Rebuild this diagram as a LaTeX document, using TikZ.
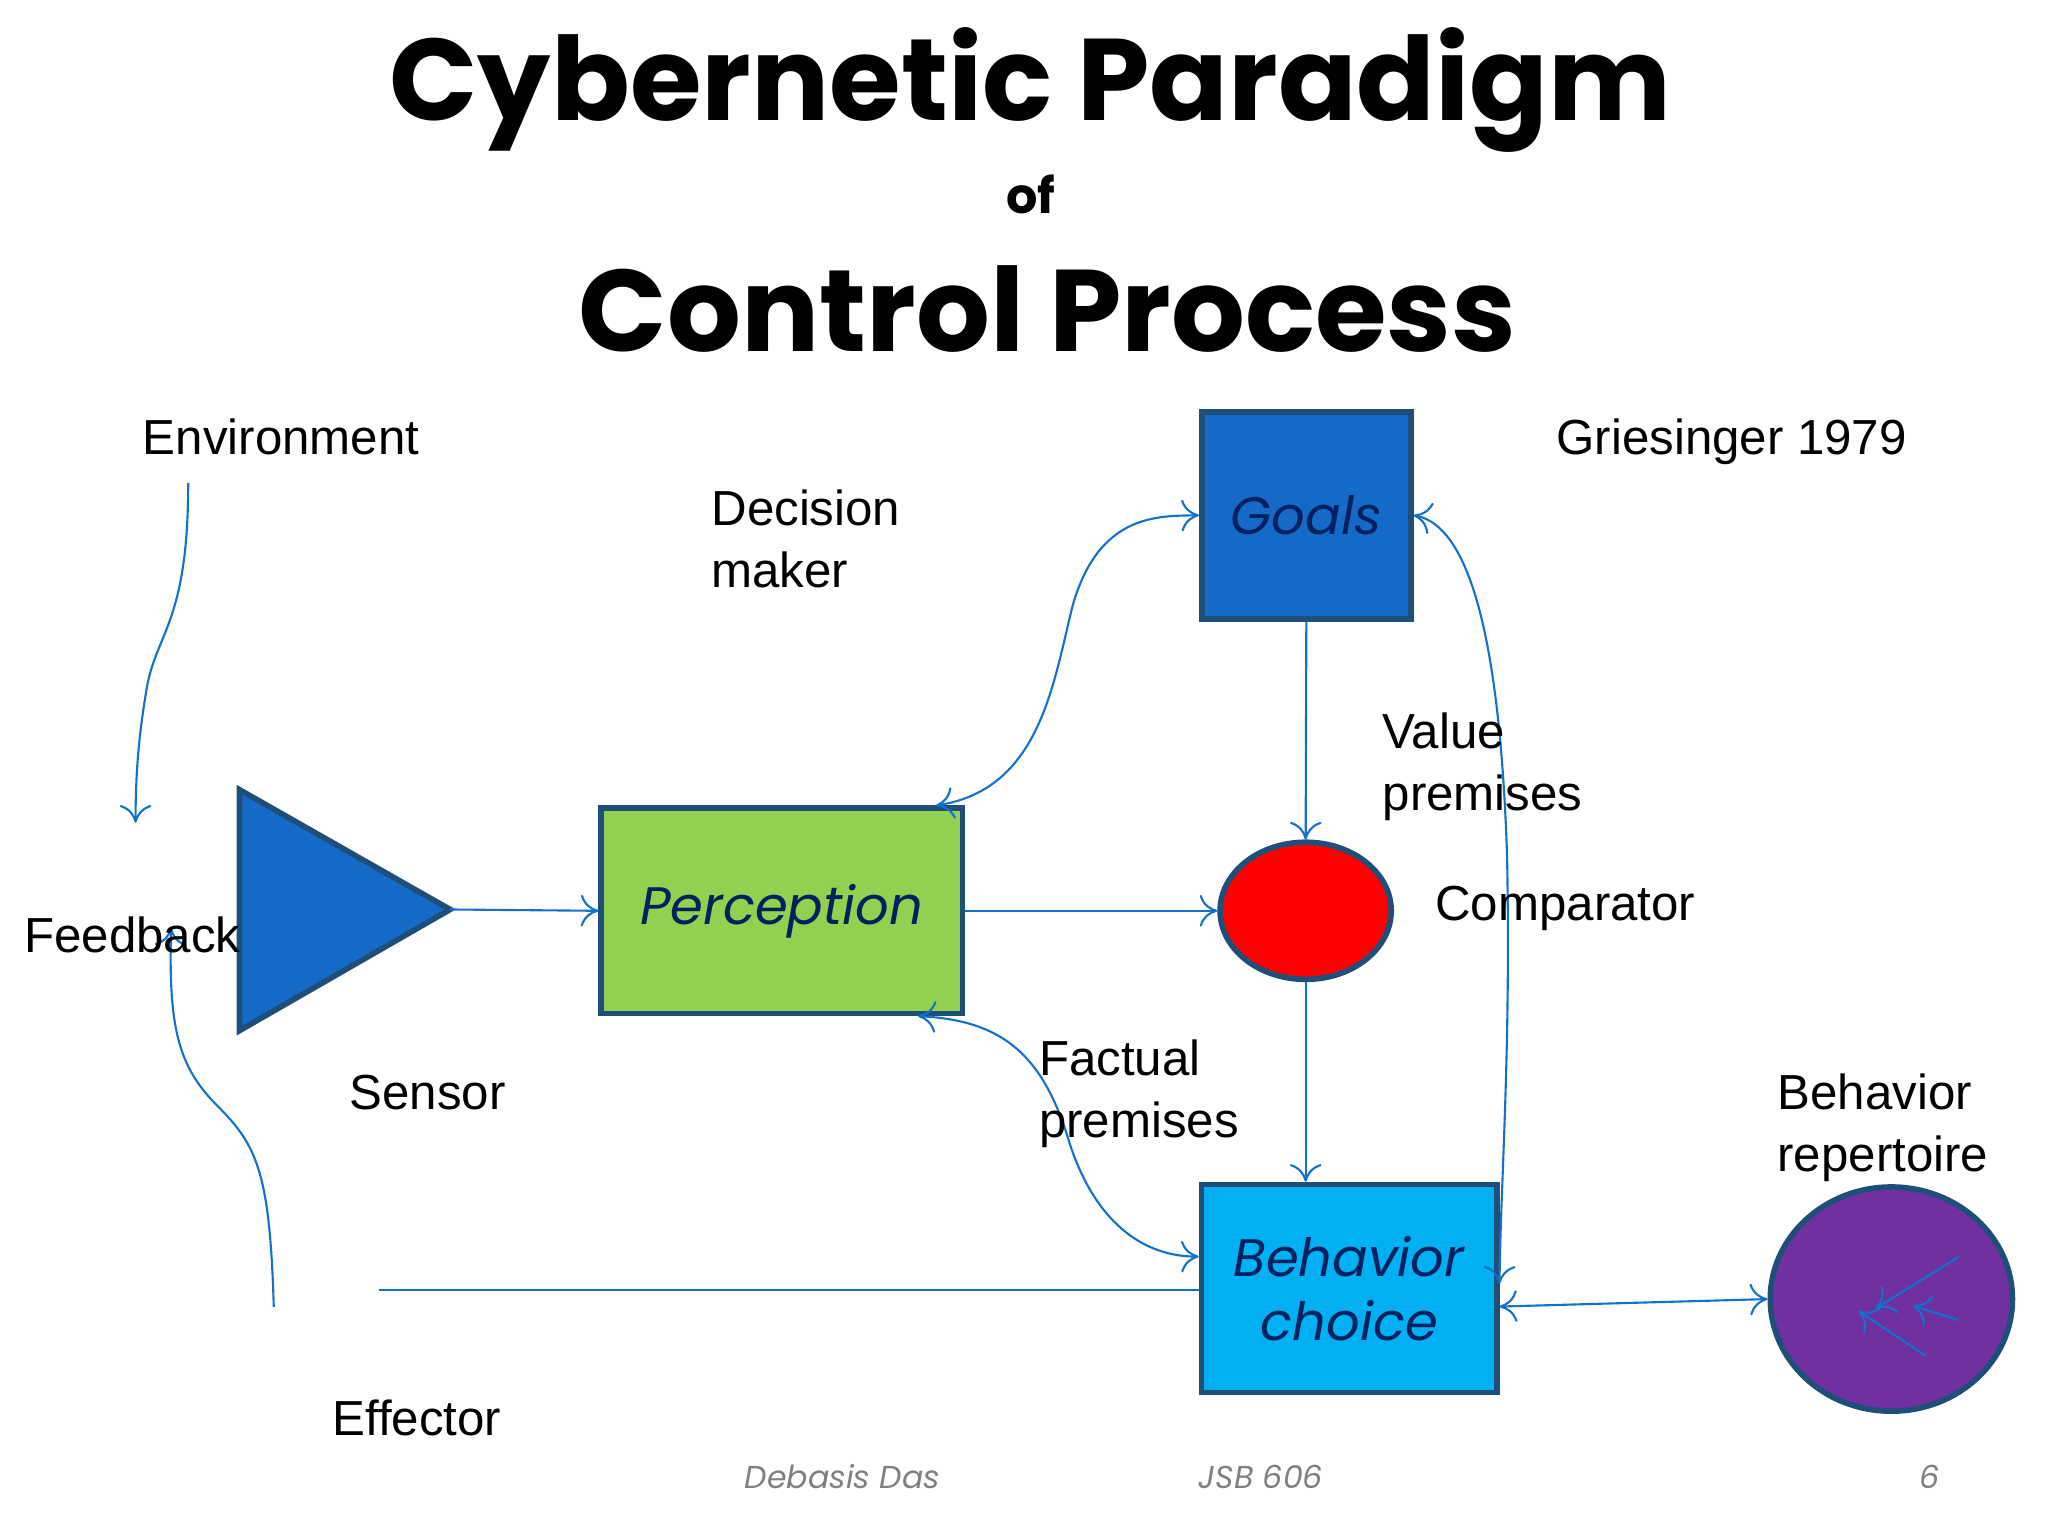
\documentclass[tikz,border=0pt]{standalone}
\usepackage{fontspec}
\setmainfont{Liberation Sans}
\newfontfamily\gothic{Poppins}
\usetikzlibrary{arrows,arrows.meta,shapes.geometric}
\definecolor{goalblue}{RGB}{21,106,200}
\definecolor{edgeblue}{RGB}{31,78,121}
\definecolor{percgreen}{RGB}{146,208,80}
\definecolor{choicecyan}{RGB}{0,176,240}
\definecolor{reppurple}{RGB}{112,48,160}
\definecolor{wireblue}{RGB}{20,112,205}
\definecolor{navy}{RGB}{0,32,96}

\begin{document}
\begin{tikzpicture}[x=0.01316cm,y=-0.01316cm,
    thin,
    >={To[length=5pt,width=9pt]},
    wire/.style = {draw=wireblue, line width=0.6pt},
    tip/.style = {->},
    box/.style = {
      draw = edgeblue,
      line width = 1.6pt,
      rectangle,
      inner sep = 0pt,
      font = \gothic\itshape\fontsize{15}{18}\selectfont,
      text = navy
    },
    lbl/.style = {anchor=base west, inner sep=0pt, align=left,
      font=\fontsize{14}{17.6}\selectfont},
    foot/.style = {anchor=base, inner sep=0pt, text=gray,
      font=\gothic\itshape\fontsize{9}{11}\selectfont}
  ]
  \useasboundingbox (0,0) rectangle (1556,1167);

  % title
  \node (title) at (783,68) {\gothic\bfseries\fontsize{33}{38}\selectfont Cybernetic Paradigm};
  \node (of) at (783,148) {\gothic\bfseries\fontsize{14}{17}\selectfont of};
  \node (title2) at (796,235) {\gothic\bfseries\fontsize{33}{38}\selectfont Control Process};

  % blocks
  \node[box, fill=goalblue, minimum width=2.09cm, minimum height=2.07cm]
    (goals) at (992.5,391.5) {Goals};
  \node[box, fill=percgreen, minimum width=3.61cm, minimum height=2.05cm]
    (perception) at (594,692) {Perception};
  \node[box, fill=choicecyan, minimum width=2.95cm, minimum height=2.08cm, align=center]
    (behavior) at (1025,979) {Behavior\\choice};
  \node[draw=edgeblue, line width=1.6pt, ellipse, fill=red,
    minimum width=1.71cm, minimum height=1.37cm] (comparator) at (992,692) {};
  \node[draw=edgeblue, line width=1.6pt, ellipse, fill=reppurple,
    minimum width=2.42cm, minimum height=2.24cm] (repertoire) at (1437,987) {};

  % sensor
  \path[fill=goalblue, draw=edgeblue, line width=1.6pt]
    (182,600) -- (342,691) -- (182,783) -- cycle;
  \coordinate (sensor) at (342,691);

  % connectors
  \coordinate (env) at (143,367);
  \coordinate (envend) at (103,625);
  \coordinate (fb) at (208,993);
  \coordinate (fbend) at (130,705);
  \coordinate (eff) at (288,980);
  \coordinate (pne) at ([xshift=-0.29cm]perception.north east);
  \coordinate (pse) at ([xshift=-0.47cm]perception.south east);
  \draw[wire,tip] (env) .. controls (143,470) and (120,480) .. (112,520)
    .. controls (105,560) and (103,590) .. (envend);
  \draw[wire,tip] (fb) .. controls (205,890) and (195,870) .. (165,840)
    .. controls (135,810) and (128,780) .. (fbend);
  \draw[wire,tip] (sensor) -- (perception.west);
  \draw[wire,tip] (perception.east) -- (comparator.west);
  \draw[wire,tip] (goals.south) -- (comparator.north);
  \draw[wire,tip] (comparator.south) -- (behavior.north -| comparator.south);
  \draw[wire] (behavior.west |- eff) -- (eff);
  \draw[wire,<->] (pne) .. controls (790,600) and (800,520) .. (815,460)
    .. controls (835,390) and (880,392) .. (goals.west);
  \draw[wire,<->] (pse) .. controls (760,775) and (790,800) .. (810,860)
    .. controls (830,930) and (870,955) .. ([yshift=0.32cm]behavior.west);
  \draw[wire,<->] (goals.east) .. controls (1120,400) and (1140,500) .. (1145,650)
    .. controls (1148,800) and (1140,900) .. ([yshift=0.05cm]behavior.east);
  \draw[wire,<->] ([yshift=-0.18cm]behavior.east) -- (repertoire.west);

  % arrows inside the repertoire
  \coordinate (r1) at (1488,955);
  \coordinate (r2) at (1488,1003);
  \coordinate (r3) at (1463,1030);
  \draw[wire,tip] (r1) -- (1425,994);
  \draw[wire,tip] (r2) -- (1453,992);
  \draw[wire,tip] (r3) -- (1412,996);

  % labels
  \node[lbl] (lenv) at (108,345) {Environment};
  \node[lbl] (ldm) at (540,446) {Decision\\maker};
  \node[lbl] (lgr) at (1182,345) {Griesinger 1979};
  \node[lbl] (lval) at (1050,616) {Value\\premises};
  \node[lbl] (lcmp) at (1090,699) {Comparator};
  \node[lbl] (lfb) at (18,724) {Feedback};
  \node[lbl] (lsen) at (265,843) {Sensor};
  \node[lbl] (lfac) at (789,864) {Factual\\premises};
  \node[lbl] (lrep) at (1350,890) {Behavior\\repertoire};
  \node[lbl] (leff) at (252,1091) {Effector};

  % footer
  \node[foot] (fa) at (640,1131) {Debasis Das};
  \node[foot] (fb2) at (958,1131) {JSB 606};
  \node[foot] (fn) at (1466,1131) {6};
\end{tikzpicture}
\end{document}
